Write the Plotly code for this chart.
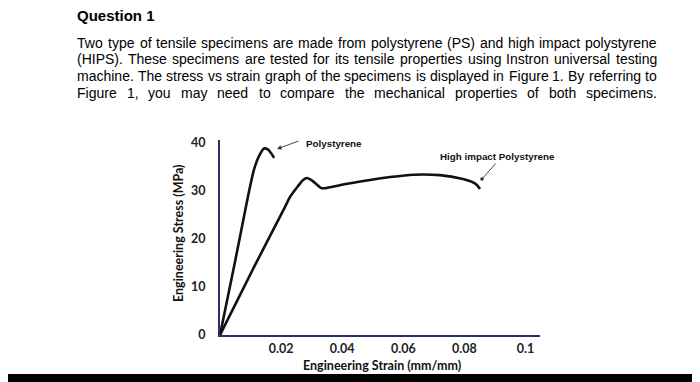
import plotly.graph_objects as go

# ---------------- data ----------------
ps_strain = [0.0, 0.0049, 0.0092, 0.0111, 0.0128, 0.0144, 0.0157, 0.0167, 0.0177]
ps_stress = [0.0, 15.2, 29.0, 34.4, 37.3, 38.85, 38.65, 37.9, 36.9]

hips_strain = [0.0, 0.0115, 0.0213, 0.0229, 0.0255, 0.0272, 0.0285, 0.0298, 0.0314, 0.0331,
               0.0347, 0.0416, 0.0491, 0.0557, 0.0632, 0.0720, 0.0795, 0.0825, 0.0841, 0.0851]
hips_stress = [0.0, 14.6, 26.7, 28.75, 31.0, 32.3, 32.7, 32.3, 31.5, 30.6,
               30.6, 31.5, 32.3, 32.9, 33.4, 33.3, 32.5, 31.9, 31.25, 30.4]

x_ticks = [0.02, 0.04, 0.06, 0.08, 0.1]
x_tick_text = ["0.02", "0.04", "0.06", "0.08", "0.1"]
y_ticks = [0, 10, 20, 30, 40]

question_title = "Question 1"
paragraph_lines = [
    "Two type of tensile specimens are made from polystyrene (PS) and high impact polystyrene",
    "(HIPS). These specimens are tested for its tensile properties using Instron universal testing",
    "machine. The stress vs strain graph of the specimens is displayed in Figure 1. By referring to",
    "Figure 1, you may need to compare the mechanical properties of both specimens.",
]

# ---------------- layout helpers ----------------
OFF = 8  # page offset of the figure (body margin)
W, H = 692, 374
L, T = 212, 132
PW, PH = 320, 195
R = W - L - PW
B = H - T - PH


def px(x):  # page pixel -> paper x
    return (x - OFF - L) / PW


def py(y):  # page pixel -> paper y
    return (T + PH - (y - OFF)) / PH


# Arial / Liberation Sans advance widths (per 1000 em) for justification
CW = dict(a=556, b=556, c=500, d=556, e=556, f=278, g=556, h=556, i=222, j=222, k=500, l=222,
          m=833, n=556, o=556, p=556, q=556, r=333, s=500, t=278, u=556, v=500, w=722, x=500,
          y=500, z=500, T=611, P=667, S=667, H=722, I=278, F=611, B=667)
CW.update({"(": 333, ")": 333, ".": 278, ",": 278, "1": 556})


def word_width(wd, size):
    return sum(CW.get(ch, 556) for ch in wd) * size / 1000.0


fig = go.Figure()
fig.add_trace(go.Scatter(x=ps_strain, y=ps_stress, mode="lines",
                         line=dict(color="#111111", width=2.6, shape="spline", smoothing=0.6),
                         name="Polystyrene", showlegend=False, hoverinfo="skip"))
fig.add_trace(go.Scatter(x=hips_strain, y=hips_stress, mode="lines",
                         line=dict(color="#111111", width=2.6, shape="spline", smoothing=0.6),
                         name="High impact Polystyrene", showlegend=False, hoverinfo="skip"))

axis_color = "#27306a"
tick_font = dict(family="Lato, Open Sans, sans-serif", size=12.5, color="#222222", weight="bold")

fig.update_xaxes(range=[0, PW / 3055], showline=True, linecolor=axis_color, linewidth=2,
                 showgrid=False, zeroline=False, ticks="", tickvals=x_ticks, ticktext=x_tick_text,
                 tickfont=tick_font, ticklabelstandoff=1, mirror=False)
fig.update_yaxes(range=[0, PH / 4.8], showline=True, linecolor=axis_color, linewidth=2,
                 showgrid=False, zeroline=False, ticks="", tickvals=y_ticks,
                 tickfont=tick_font, ticklabelstandoff=10, mirror=False)

ann = []
title_font = dict(family="Lato, Open Sans, sans-serif", size=12.5, color="#111111", weight="bold")
ann.append(dict(text="Engineering Strain (mm/mm)", x=px(382), y=py(365), xref="paper", yref="paper",
                showarrow=False, font=title_font, xanchor="center", yanchor="middle"))
ann.append(dict(text="Engineering Stress (MPa)", x=px(178), y=py(233), xref="paper", yref="paper",
                showarrow=False, font=title_font, textangle=-90, xanchor="center", yanchor="middle"))

label_font = dict(family="Liberation Sans, Arial, sans-serif", size=9.8, color="#111111", weight="bold")
ann.append(dict(text="Polystyrene", x=px(304), y=py(143), xref="paper", yref="paper",
                showarrow=False, font=label_font, xanchor="left", yanchor="middle"))
ann.append(dict(text="", x=px(277), y=py(149), xref="paper", yref="paper", ax=23, ay=-8.5,
                showarrow=True, arrowhead=2, arrowsize=1,
                arrowwidth=0.9, arrowcolor="#333333", standoff=0))
ann.append(dict(text="High impact Polystyrene", x=px(438), y=py(156), xref="paper", yref="paper",
                showarrow=False, font=label_font, xanchor="left", yanchor="middle"))
ann.append(dict(text="", x=px(482), y=py(179), xref="paper", yref="paper", ax=15, ay=-17,
                showarrow=True, arrowhead=6, arrowsize=1,
                arrowwidth=0.9, arrowcolor="#333333", standoff=0))

text_family = "Liberation Sans, Arial, sans-serif"
ann.append(dict(text=question_title, x=px(75), y=py(15), xref="paper", yref="paper",
                showarrow=False, xanchor="left", yanchor="middle",
                font=dict(family=text_family, size=15, color="#000000", weight="bold")))

TXT = 14
X0, X1 = 75, 655
line_y = [43, 59.5, 76, 92.5]
for s, yy in zip(paragraph_lines, line_y):
    words = s.split(" ")
    widths = [word_width(wd, TXT) for wd in words]
    gap = (X1 - X0 - sum(widths)) / (len(words) - 1)
    xx = X0
    for wd, wdw in zip(words, widths):
        ann.append(dict(text=wd, x=px(xx), y=py(yy), xref="paper", yref="paper",
                        showarrow=False, xanchor="left", yanchor="middle",
                        font=dict(family=text_family, size=TXT, color="#000000")))
        xx += wdw + gap

fig.update_layout(width=W, height=H, margin=dict(l=L, r=R, t=T, b=B),
                  paper_bgcolor="white", plot_bgcolor="white", annotations=ann,
                  shapes=[dict(type="rect", xref="paper", yref="paper",
                               x0=px(0), x1=px(700), y0=py(374), y1=py(383),
                               fillcolor="#000000", line=dict(width=0), layer="above")])

fig.write_html("out.html")
